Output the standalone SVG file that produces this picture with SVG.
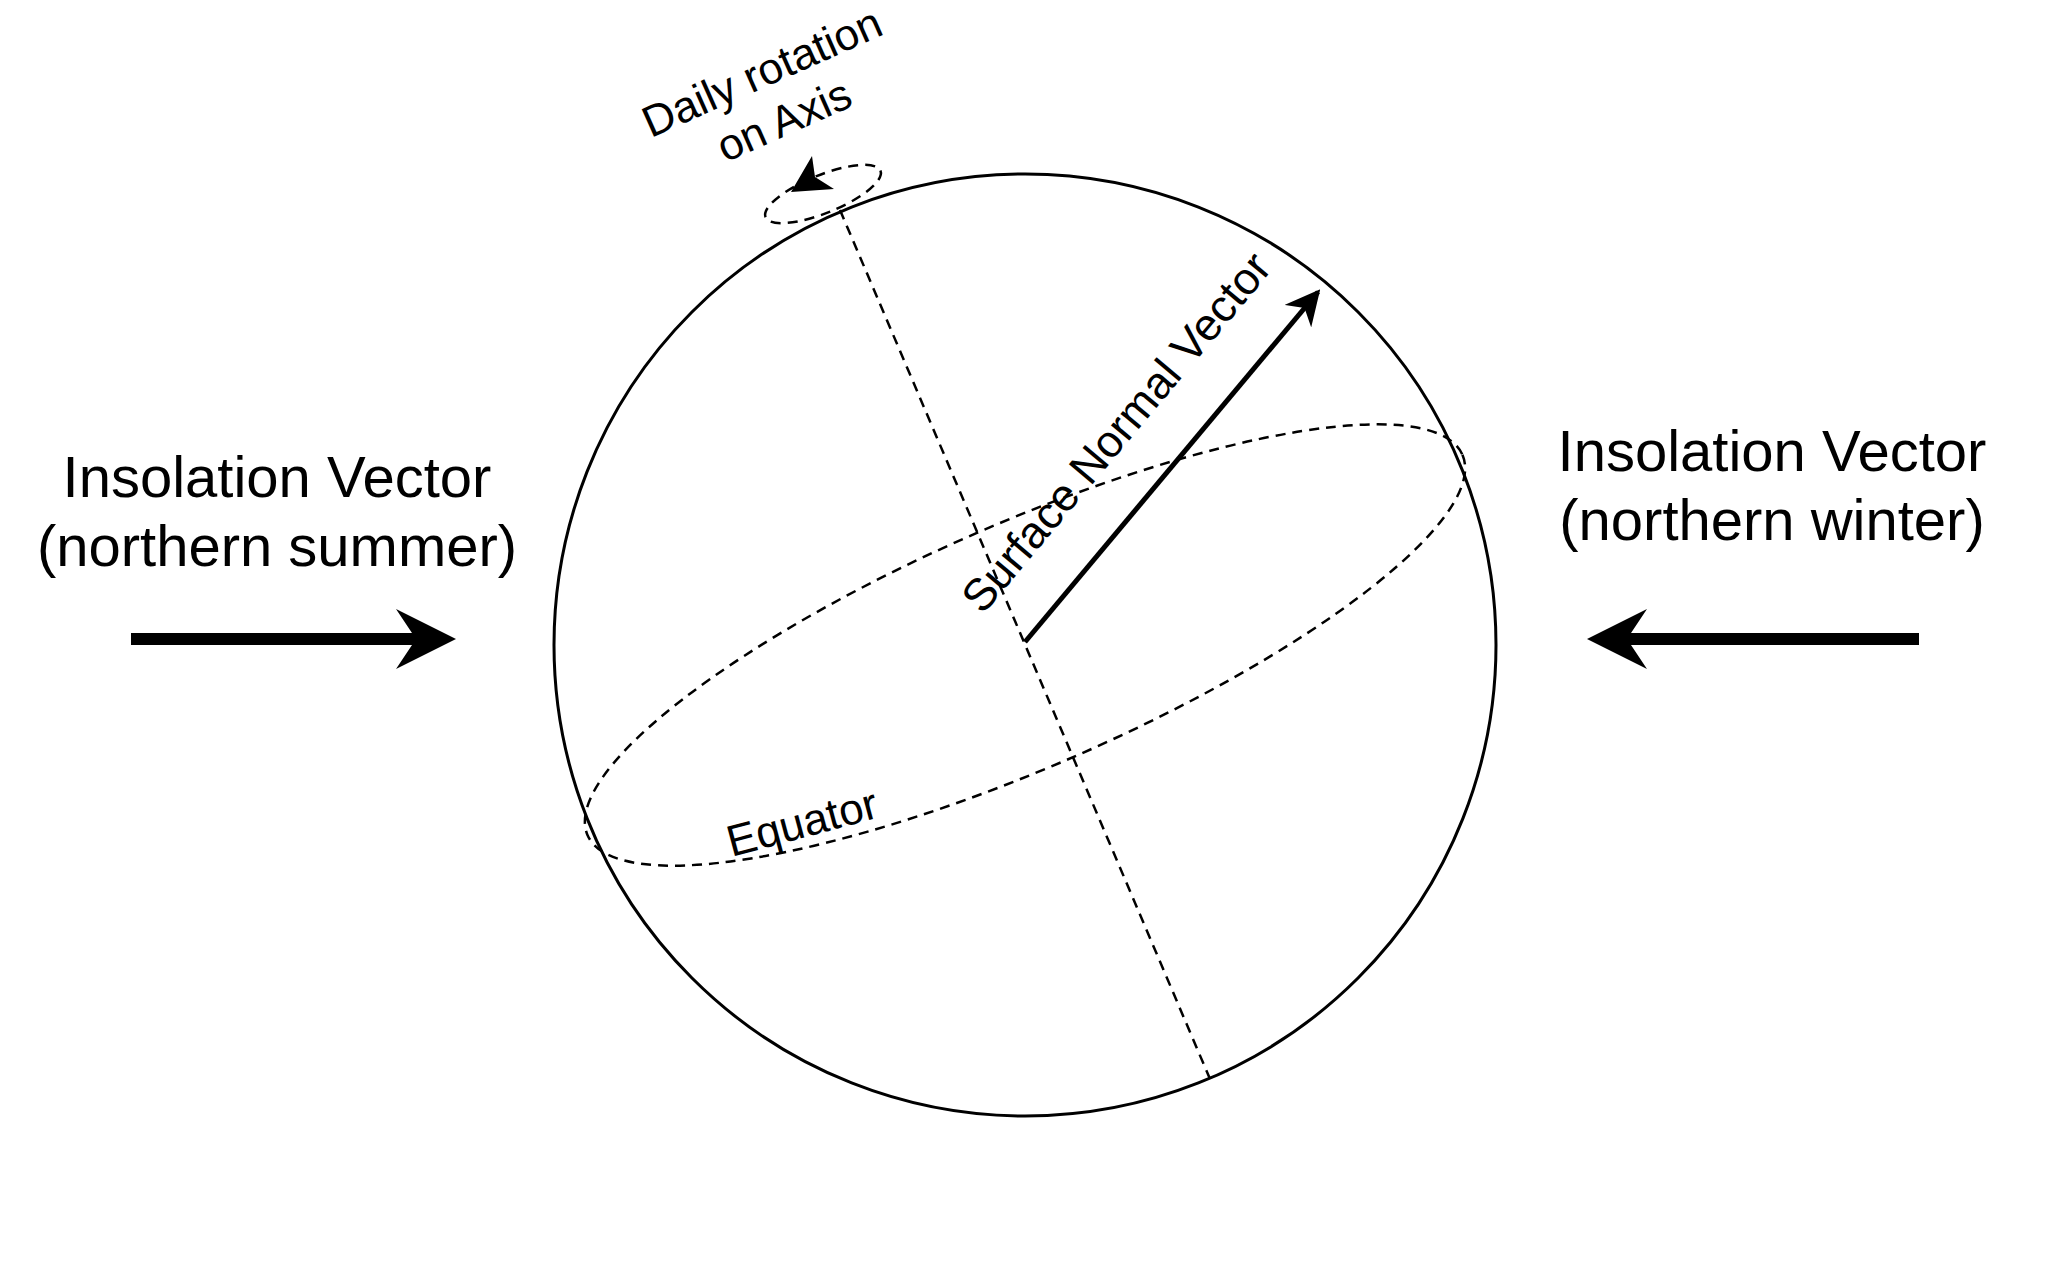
<svg xmlns="http://www.w3.org/2000/svg" width="2048" height="1262" viewBox="0 0 2048 1262">
<style>
text{font-family:"Liberation Sans",Arial,sans-serif;fill:#000}
.d{fill:none;stroke:#000;stroke-width:2.5;stroke-dasharray:10 7}
</style>
<defs>
<marker id="ah" viewBox="0 0 10 10" refX="9" refY="5" markerWidth="7" markerHeight="7" orient="auto"><path d="M0,0 L10,5 L0,10 L3,5 Z" fill="#000"/></marker>
</defs>
<rect width="2048" height="1262" fill="#fff"/>
<g id="earth">
<circle cx="1025" cy="645" r="471" fill="none" stroke="#000" stroke-width="3"/>
</g>
<g id="connectors">
<line class="d" x1="840" y1="210" x2="1210" y2="1079"/>
<ellipse class="d" cx="1025" cy="645" rx="477" ry="122" transform="rotate(-23.5 1025 645)" stroke-dasharray="7 6"/>
<ellipse class="d" cx="823" cy="194" rx="62" ry="19" transform="rotate(-22 823 194)" stroke-dasharray="8 6"/>
<polygon points="791,192 812,156 815,177 834,189" fill="#000"/>
<line x1="1025" y1="642" x2="1318" y2="292" stroke="#000" stroke-width="5" marker-end="url(#ah)"/>
<path d="M131,639 H420" stroke="#000" stroke-width="12"/>
<path d="M456,639 L396,609 L416,639 L396,669 Z" fill="#000"/>
<path d="M1919,639 H1622" stroke="#000" stroke-width="12"/>
<path d="M1587,639 L1647,609 L1627,639 L1647,669 Z" fill="#000"/>
</g>
<g id="labels">
<text x="277" y="497" font-size="58" text-anchor="middle">Insolation Vector</text>
<text x="277" y="566" font-size="58" text-anchor="middle">(northern summer)</text>
<text x="1772" y="471" font-size="58" text-anchor="middle">Insolation Vector</text>
<text x="1772" y="540" font-size="58" text-anchor="middle">(northern winter)</text>
<text x="0" y="0" font-size="45" text-anchor="middle" transform="translate(1128,442) rotate(-50)">Surface Normal Vector</text>
<text x="0" y="0" font-size="44" text-anchor="middle" transform="translate(806,837) rotate(-15)">Equator</text>
<text x="0" y="0" font-size="44" text-anchor="middle" transform="translate(768,86) rotate(-24)">Daily rotation</text>
<text x="0" y="0" font-size="44" text-anchor="middle" transform="translate(790,134) rotate(-24)">on Axis</text>
</g>
</svg>
